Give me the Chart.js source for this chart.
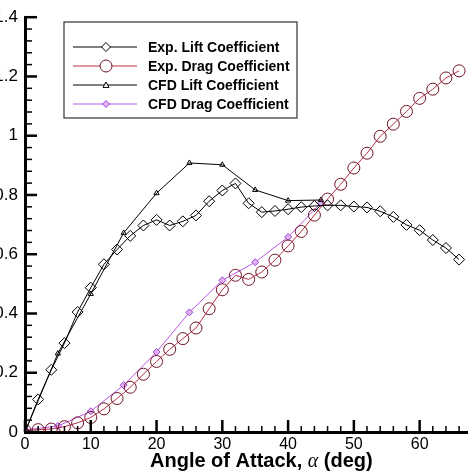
<!DOCTYPE html>
<html>
<head>
<meta charset="utf-8">
<script src="https://cdn.jsdelivr.net/npm/chart.js@4/dist/chart.umd.min.js"></script>
<style>
  html, body { margin: 0; padding: 0; background: #fff; overflow: hidden; }
  #wrap { position: relative; width: 474px; height: 474px; overflow: hidden; }
  #chart { position: absolute; left: -30px; top: 0; }
</style>
</head>
<body>
<div id="wrap"><canvas id="chart" width="504" height="474"></canvas></div>
<script>
// angle of attack (deg)
const expAoa = [0, 2, 4, 6, 8, 10, 12, 14, 16, 18, 20, 22, 24, 26, 28, 30, 32,
  34, 36, 38, 40, 42, 44, 46, 48, 50, 52, 54, 56, 58, 60, 62, 64, 66];
const cfdAoa = [0, 5, 10, 15, 20, 25, 30, 35, 40, 45];

// experimento
const expLift = [0.00, 0.11, 0.21, 0.30, 0.405, 0.487, 0.566, 0.616, 0.662, 0.697,
  0.716, 0.697, 0.711, 0.731, 0.779, 0.815, 0.839, 0.772, 0.742, 0.746, 0.752,
  0.759, 0.763, 0.765, 0.765, 0.761, 0.758, 0.745, 0.726, 0.699, 0.681, 0.648,
  0.621, 0.582];
const expDrag = [0.005, 0.008, 0.010, 0.018, 0.031, 0.049, 0.078, 0.113, 0.151,
  0.195, 0.238, 0.279, 0.315, 0.351, 0.416, 0.480, 0.529, 0.515, 0.540, 0.580,
  0.628, 0.677, 0.732, 0.786, 0.836, 0.891, 0.941, 0.998, 1.039, 1.082, 1.126,
  1.157, 1.195, 1.219];

// CFD
const cfdLift = [0.00, 0.265, 0.466, 0.672, 0.806, 0.908, 0.902, 0.817, 0.781, 0.783];
const cfdDrag = [0.007, 0.020, 0.070, 0.158, 0.270, 0.404, 0.512, 0.573, 0.658, 0.773];

const xMajor = [0, 10, 20, 30, 40, 50, 60];
const yMajor = [0, 0.2, 0.4, 0.6, 0.8, 1, 1.2, 1.4];

const toXY = (xs, ys) => xs.map((x, i) => ({ x: x, y: ys[i] }));

const series = [
  { label: 'Exp. Lift Coefficient', data: toXY(expAoa, expLift), line: '#000', mark: '#000',
    fill: 'rgba(0,0,0,0)', style: 'rectRot', r: 5.5, lr: 4.5 },
  { label: 'Exp. Drag Coefficient', data: toXY(expAoa, expDrag), line: '#b8304a', mark: '#6e1424',
    fill: 'rgba(0,0,0,0)', style: 'circle', r: 6, lr: 6 },
  { label: 'CFD Lift Coefficient', data: toXY(cfdAoa, cfdLift), line: '#000', mark: '#000',
    fill: 'rgba(0,0,0,0)', style: 'triangle', r: 3, lr: 3 },
  { label: 'CFD Drag Coefficient', data: toXY(cfdAoa, cfdDrag), line: '#b858e8', mark: '#a048d8',
    fill: '#e0b0f4', style: 'rectRot', r: 3.5, lr: 3.5 }
];

function marker(ctx, style, x, y, r, stroke, fill) {
  ctx.save();
  ctx.beginPath();
  if (style === 'circle') {
    ctx.arc(x, y, r, 0, Math.PI * 2);
  } else if (style === 'rectRot') {
    ctx.moveTo(x, y - r); ctx.lineTo(x + r, y); ctx.lineTo(x, y + r); ctx.lineTo(x - r, y);
    ctx.closePath();
  } else {
    ctx.moveTo(x, y - r); ctx.lineTo(x + r, y + r * 0.8); ctx.lineTo(x - r, y + r * 0.8);
    ctx.closePath();
  }
  ctx.fillStyle = fill; ctx.fill();
  ctx.strokeStyle = stroke; ctx.lineWidth = 1; ctx.stroke();
  ctx.restore();
}

// ticks hacia adentro + leyenda + título del eje
const decor = {
  id: 'decor',
  afterDraw(chart) {
    const ctx = chart.ctx;
    const xs = chart.scales.x, ys = chart.scales.y;
    const area = chart.chartArea;
    ctx.save();
    ctx.strokeStyle = '#000';
    for (let v = 0; v <= 66; v += 2) {
      const px = xs.getPixelForValue(v);
      const major = v % 10 === 0;
      ctx.lineWidth = major ? 2.5 : 1.5;
      ctx.beginPath();
      ctx.moveTo(px, area.bottom);
      ctx.lineTo(px, area.bottom - (major ? 12 : 6));
      ctx.stroke();
    }
    for (let i = 0; i <= 35; i++) {
      const v = i * 0.04;
      const py = ys.getPixelForValue(v);
      const major = i % 5 === 0;
      ctx.lineWidth = major ? 2.5 : 1.5;
      ctx.beginPath();
      ctx.moveTo(area.left, py);
      ctx.lineTo(area.left + (major ? 12 : 7), py);
      ctx.stroke();
    }

    // leyenda
    const bx = 94, by = 22, bw = 233, bh = 96;
    ctx.fillStyle = '#fff';
    ctx.fillRect(bx, by, bw, bh);
    ctx.lineWidth = 1.2;
    ctx.strokeStyle = '#333';
    ctx.strokeRect(bx, by, bw, bh);
    ctx.font = 'bold 14px "Liberation Sans", Arial, sans-serif';
    ctx.textBaseline = 'middle';
    series.forEach((s, i) => {
      const y = 47 + i * 19;
      ctx.strokeStyle = s.line;
      ctx.lineWidth = 1;
      ctx.beginPath();
      ctx.moveTo(103, y); ctx.lineTo(167, y);
      ctx.stroke();
      marker(ctx, s.style, 136, y, s.lr, s.mark, s.fill === 'rgba(0,0,0,0)' ? '#fff' : s.fill);
      ctx.fillStyle = '#000';
      ctx.fillText(s.label, 178, y + 1);
    });

    // título del eje x
    ctx.textBaseline = 'alphabetic';
    const parts = [
      ['Angle of Attack, ', 'bold 20px "Liberation Sans", Arial, sans-serif'],
      ['\u03b1', 'italic 20px "Liberation Serif", serif'],
      [' (deg)', 'bold 20px "Liberation Sans", Arial, sans-serif']
    ];
    let tx = 180;
    parts.forEach(p => {
      ctx.font = p[1];
      ctx.fillText(p[0], tx, 467);
      tx += ctx.measureText(p[0]).width;
    });
    ctx.restore();
  }
};

Chart.defaults.font.family = '"Liberation Sans", Arial, sans-serif';
Chart.defaults.color = '#000';

new Chart(document.getElementById('chart').getContext('2d'), {
  type: 'line',
  data: {
    datasets: series.map(s => ({
      label: s.label,
      data: s.data,
      borderColor: s.line,
      borderWidth: 1,
      pointStyle: s.style,
      pointRadius: s.r,
      pointBorderColor: s.mark,
      pointBackgroundColor: s.fill,
      pointBorderWidth: 1,
      tension: 0,
      fill: false
    }))
  },
  options: {
    responsive: false,
    animation: false,
    layout: { padding: { top: 6, right: 0, bottom: 0, left: 0 } },
    scales: {
      x: {
        type: 'linear',
        min: 0,
        max: 67.2,
        afterFit: s => { s.height = 42; },
        afterBuildTicks: s => { s.ticks = xMajor.map(v => ({ value: v })); },
        grid: { display: false, drawTicks: false },
        border: { display: true, width: 3, color: '#000' },
        ticks: { padding: 3, font: { size: 16 }, color: '#000' }
      },
      y: {
        type: 'linear',
        min: 0,
        max: 1.4,
        afterFit: s => { s.width = 55; },
        afterBuildTicks: s => { s.ticks = yMajor.map(v => ({ value: v })); },
        grid: { display: false, drawTicks: false },
        border: { display: true, width: 3, color: '#000' },
        ticks: {
          padding: 7,
          font: { size: 17 },
          color: '#000',
          callback: v => String(Math.round(v * 10) / 10)
        }
      }
    },
    plugins: {
      legend: { display: false },
      tooltip: { enabled: false }
    }
  },
  plugins: [decor]
});
</script>
</body>
</html>
